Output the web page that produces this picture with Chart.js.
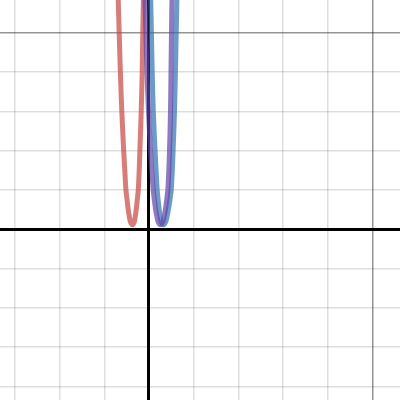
<!DOCTYPE html>
<html>
<head>
<meta charset="utf-8">
<script src="https://cdn.jsdelivr.net/npm/chart.js@4.4.1/dist/chart.umd.min.js"></script>
<style>
  html, body { margin: 0; padding: 0; background: #ffffff; }
  #wrap { width: 400px; height: 400px; position: relative; }
</style>
</head>
<body>
<div id="wrap"><canvas id="grafico"></canvas></div>
<script>
/* =========================================================
   DADOS (unidades da grade)
========================================================= */

// alturas lidas ao longo de cada curva (ramo esquerdo, vértice, ramo direito)
const alturas = [5.95, 5, 4, 3, 2, 1.5, 1, 0.75, 0.5, 0.3, 0.18, 0.115,
                 0.18, 0.3, 0.5, 0.75, 1, 1.5, 2, 3, 4, 5, 5.95];

const redX = [-0.691, -0.667, -0.640, -0.608, -0.566, -0.541, -0.516, -0.490, -0.465, -0.436, -0.414,
              -0.374,
              -0.333, -0.311, -0.286, -0.262, -0.240, -0.219, -0.204, -0.174, -0.152, -0.139, -0.123];

const purpleX = [-0.094, -0.069, -0.045, -0.011, 0.034, 0.063, 0.094, 0.119, 0.148, 0.181, 0.208,
                 0.257,
                 0.306, 0.333, 0.366, 0.396, 0.421, 0.443, 0.459, 0.481, 0.492, 0.503, 0.515];

const blueX = [0.036, 0.054, 0.072, 0.096, 0.136, 0.159, 0.183, 0.204, 0.228, 0.253, 0.277,
               0.324,
               0.371, 0.400, 0.434, 0.468, 0.497, 0.521, 0.539, 0.570, 0.591, 0.609, 0.626];

// janela visível
const xMin = -3.333, xMax = 5.615;
const yMin = -4.344, yMax = 5.835;


/* =========================================================
   AUXILIARES
========================================================= */

function pontos(xs, ys) {
  return xs.map((x, i) => ({ x, y: ys[i] }));
}

function corGrade(ctx) {
  const v = ctx.tick ? ctx.tick.value : NaN;
  if (v === 0) return '#000000';
  if (v % 5 === 0) return 'rgba(0,0,0,0.42)';
  return 'rgba(0,0,0,0.13)';
}

function larguraGrade(ctx) {
  const v = ctx.tick ? ctx.tick.value : NaN;
  if (v === 0) return 3;
  return 1.5;
}

function serie(xs, cor) {
  return {
    data: pontos(xs, alturas),
    showLine: true,
    borderColor: cor,
    borderWidth: 5,
    borderJoinStyle: 'round',
    pointRadius: 0,
    tension: 0.3,
    clip: 0
  };
}


/* =========================================================
   GRÁFICO
========================================================= */

const eixo = (min, max, lado) => ({
  type: 'linear',
  min, max,
  ticks: { display: false, stepSize: 1, includeBounds: false },
  grid: { color: corGrade, lineWidth: larguraGrade, drawTicks: false },
  border: { display: false },
  afterFit: s => { if (lado === 'x') s.height = 0; else s.width = 0; }
});

new Chart(document.getElementById('grafico'), {
  type: 'scatter',
  data: {
    datasets: [
      serie(purpleX, 'rgba(96,66,166,0.7)'),
      serie(blueX, 'rgba(45,112,179,0.7)'),
      serie(redX, 'rgba(199,68,64,0.7)')
    ]
  },
  options: {
    responsive: true,
    maintainAspectRatio: false,
    animation: false,
    layout: { padding: 0 },
    plugins: { legend: { display: false }, tooltip: { enabled: false } },
    scales: {
      x: eixo(xMin, xMax, 'x'),
      y: eixo(yMin, yMax, 'y')
    }
  }
});
</script>
</body>
</html>
